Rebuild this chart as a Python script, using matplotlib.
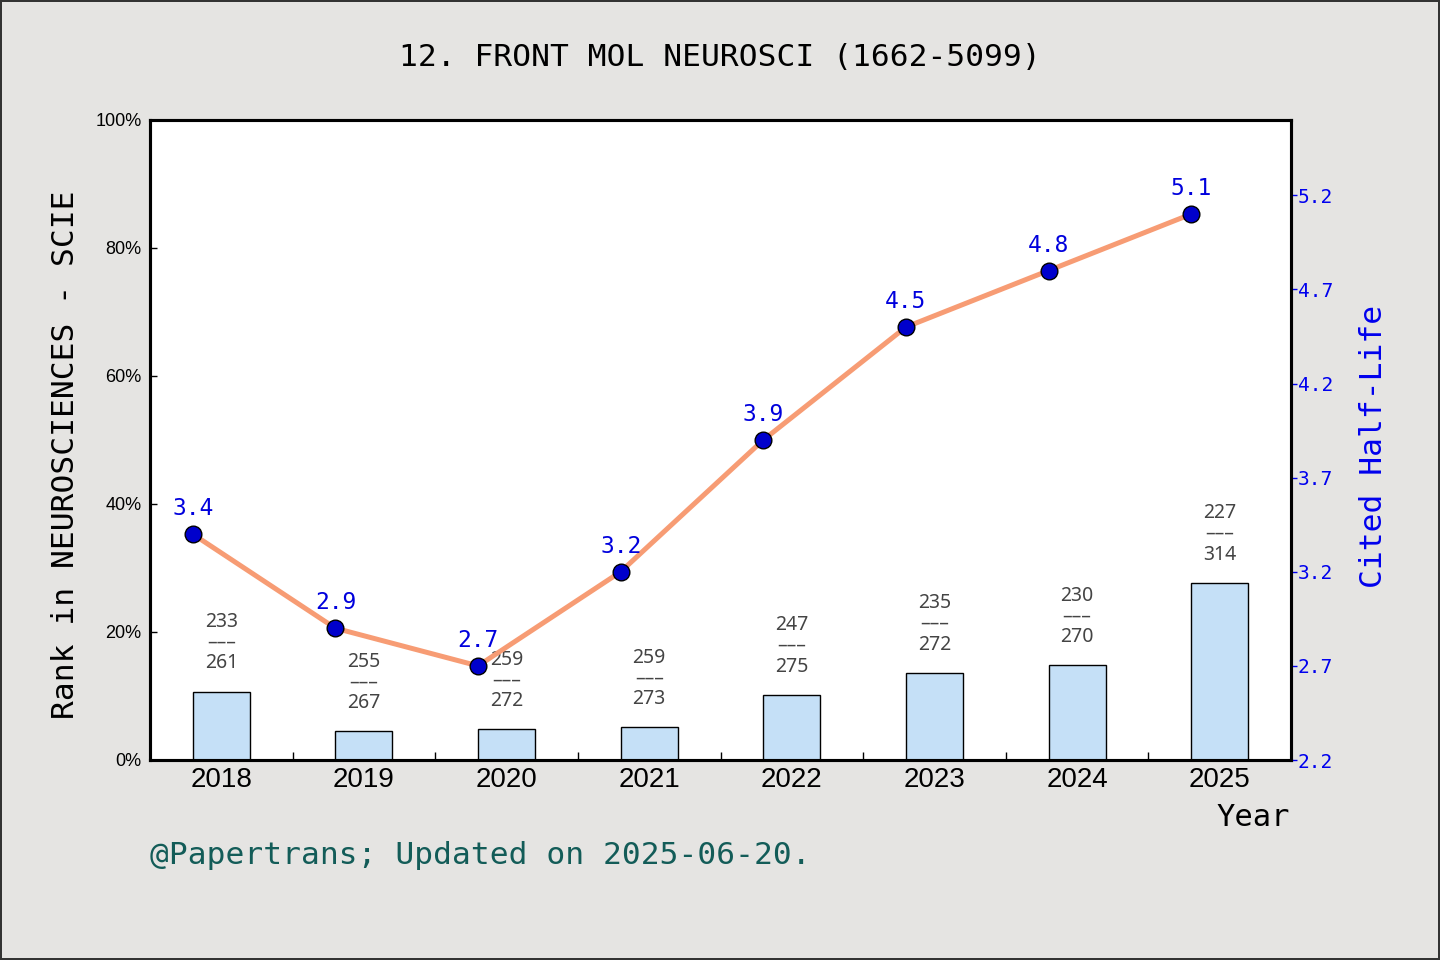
import matplotlib
matplotlib.use("Agg")
import matplotlib.pyplot as plt
from matplotlib.ticker import FixedLocator, PercentFormatter

# Data
years = ["2018", "2019", "2020", "2021", "2022", "2023", "2024", "2025"]
rank = [233, 255, 259, 259, 247, 235, 230, 227]
total = [261, 267, 272, 273, 275, 272, 270, 314]
bar_pct = [10.7, 4.5, 4.8, 5.1, 10.2, 13.6, 14.8, 27.7]
half_life = [3.4, 2.9, 2.7, 3.2, 3.9, 4.5, 4.8, 5.1]
right_ticks = [2.2, 2.7, 3.2, 3.7, 4.2, 4.7, 5.2]

mono = "DejaVu Sans Mono"
sans = "Liberation Sans"
bg = "#e5e4e2"

fig = plt.figure(figsize=(14.4, 9.6), dpi=100, facecolor=bg,
                 edgecolor="#333333", linewidth=1.5)
ax = fig.add_axes([150/1440, 1-760/960, 1141/1440, 640/960])
ax.set_facecolor("white")

x = list(range(len(years)))
ax.bar(x, bar_pct, width=0.4, color="#c5e0f7", edgecolor="black", linewidth=1, zorder=2)
for i in x:
    ax.annotate(f"{rank[i]}\n–––\n{total[i]}", (i, bar_pct[i]), xytext=(0, 13),
                textcoords="offset points", ha="center", va="bottom",
                fontsize=14, color="#444444", family="Noto Sans", linespacing=1.05, zorder=5)

ax.set_xlim(-0.5, len(years) - 0.5)
ax.set_ylim(0, 100)
ax.yaxis.set_major_locator(FixedLocator([0, 20, 40, 60, 80, 100]))
ax.yaxis.set_major_formatter(PercentFormatter(decimals=0))
ax.tick_params(axis="y", direction="in", length=5, width=1, labelsize=13, pad=6)
for lab in ax.get_yticklabels():
    lab.set_family(sans)
ax.set_xticks(x)
ax.set_xticklabels(years, family=sans, fontsize=20)
ax.tick_params(axis="x", length=0, pad=5)
ax.set_xticks([i + 0.5 for i in x[:-1]], minor=True)
ax.tick_params(axis="x", which="minor", direction="in", length=6, width=1)
for s in ax.spines.values():
    s.set_linewidth(2.2)

ax2 = ax.twinx()
ax2.set_ylim(2.2, 5.6)
ax2.plot([i - 0.2 for i in x], half_life, color="#f79c74", linewidth=3.6,
         marker="o", markersize=12, markerfacecolor="#0000cc",
         markeredgecolor="black", markeredgewidth=1, zorder=3)
for i in x:
    ax2.annotate(f"{half_life[i]:.1f}", (i - 0.2, half_life[i]), xytext=(0, 10),
                 textcoords="offset points", ha="center", va="bottom",
                 fontsize=16.5, color="#0000dd", family=mono)
ax2.yaxis.set_major_locator(FixedLocator(right_ticks))
ax2.set_yticklabels([f"{t:.1f}" for t in right_ticks], family=mono, fontsize=14, color="#0000ee")
ax2.tick_params(axis="y", direction="out", length=4, width=1, color="#0000ee", pad=1)
for s in ax2.spines.values():
    s.set_linewidth(2.2)

# axis titles placed as figure text
fig.text(66/1440, 1-455/960, "Rank in NEUROSCIENCES - SCIE", rotation=90, ha="center",
         va="center", family=mono, fontsize=22.5, color="black")
fig.text(1374/1440, 1-446/960, "Cited Half-Life", rotation=90, ha="center", va="center",
         family=mono, fontsize=22.5, color="#0000ee")
fig.text(0.5, 1-57/960, "12. FRONT MOL NEUROSCI (1662-5099)", ha="center", va="center",
         family=mono, fontsize=22.5, color="black")
fig.text(1290/1440, 1-817/960, "Year", ha="right", va="center", family=mono, fontsize=22)
fig.text(150/1440, 1-855/960, "@Papertrans; Updated on 2025-06-20.", ha="left", va="center",
         family=mono, fontsize=22.5, color="#135c58")

fig.savefig("out.png", dpi=100, facecolor=bg, edgecolor="#333333")
